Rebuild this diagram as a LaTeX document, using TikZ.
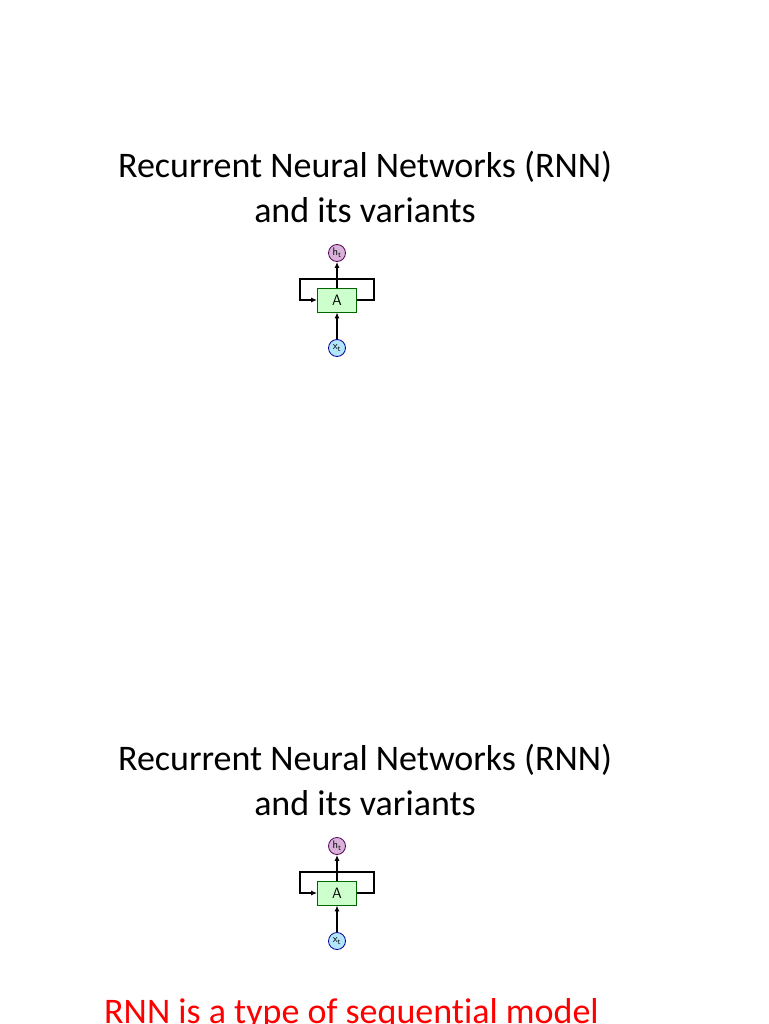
\documentclass[tikz,border=0pt]{standalone}
\usepackage{fontspec}
\setmainfont[Ligatures={NoCommon}]{Carlito}
\usetikzlibrary{arrows.meta}
\begin{document}
\begin{tikzpicture}[x=1pt,y=-1pt,
  ttl/.style={font=\fontsize{36}{40}\selectfont,inner sep=0pt,anchor=center},
  hcirc/.style={circle,draw=violet!70!black,fill=violet!30,line width=0.8pt,minimum size=17pt,inner sep=0pt,font=\sffamily\fontsize{11}{11}\selectfont},
  xcirc/.style={circle,draw=blue!60!black,fill=cyan!30,line width=0.8pt,minimum size=17pt,inner sep=0pt,font=\sffamily\fontsize{11}{11}\selectfont},
  abox/.style={rectangle,draw=green!40!black,fill=green!20!white,line width=0.8pt,minimum width=39pt,minimum height=24pt,inner sep=0pt,font=\sffamily\fontsize{15}{15}\selectfont},
  arr/.style={-{Latex[length=6pt,width=5pt]},line width=1.2pt}]
\useasboundingbox (0,0) rectangle (768,1024);
\foreach \dy/\s in {0/a,593/b}{
  \node[ttl] (t1\s) at (365,167+\dy) {Recurrent Neural Networks (RNN)};
  \node[ttl] (t2\s) at (365,210+\dy) {and its variants};
  \node[hcirc] (h\s) at (337,253+\dy) {h\textsubscript{t}};
  \node[abox] (A\s) at (337,300+\dy) {A};
  \node[xcirc] (x\s) at (337,348+\dy) {x\textsubscript{t}};
  \draw[arr] (A\s) -- (h\s);
  \draw[arr] (x\s) -- (A\s);
  \coordinate (c1\s) at (374,279+\dy);
  \coordinate (c2\s) at (300,279+\dy);
  \draw[arr] (A\s.east) -| (c1\s) -- (c2\s) |- (A\s.west);
}
\node[font=\fontsize{36}{40}\selectfont,text=red,inner sep=0pt,anchor=west] (r) at (104,1014) {RNN is a type of sequential model};
\end{tikzpicture}
\end{document}
